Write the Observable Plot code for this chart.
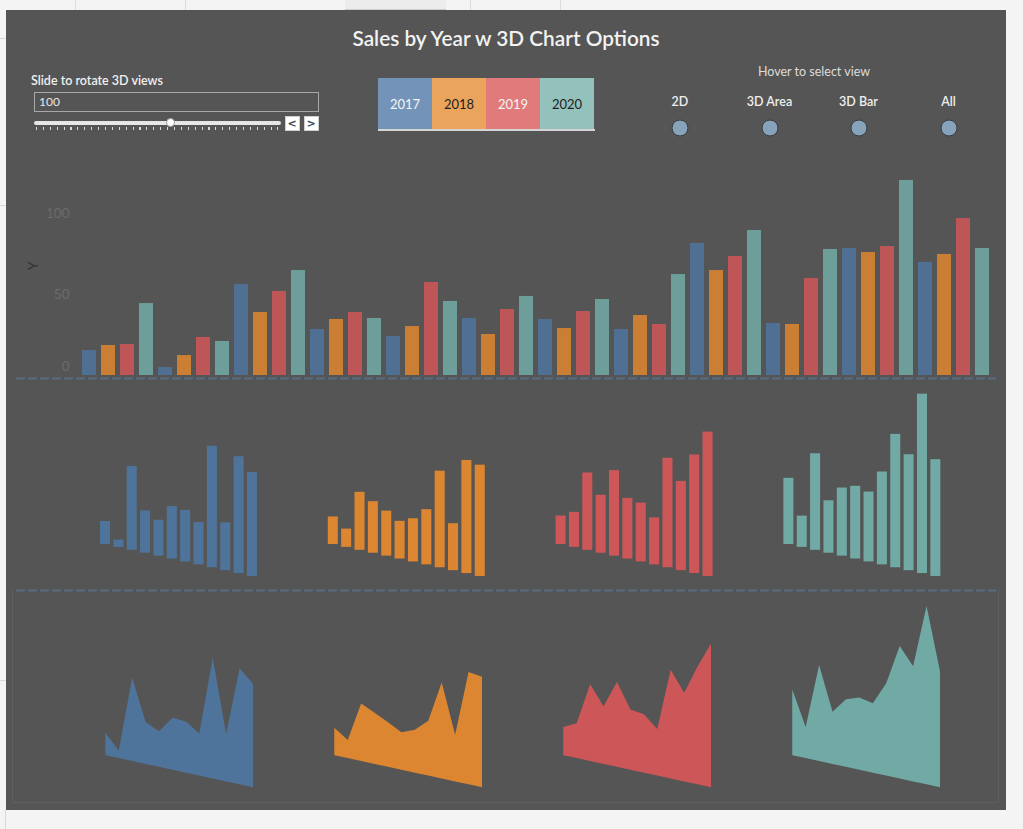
<!DOCTYPE html>
<html>
<head>
<meta charset="utf-8">
<script src="https://cdn.jsdelivr.net/npm/d3@7"></script>
<script src="https://cdn.jsdelivr.net/npm/@observablehq/plot@0.6"></script>
<style>
  body { margin:0; width:1023px; height:829px; background:#f4f4f4; position:relative; overflow:hidden;
         font-family: Lato, "Open Sans", sans-serif; }
  .abs { position:absolute; white-space:nowrap; }
  .c { transform: translate(-50%, -50%); }
  .vc { transform: translate(0, -50%); }
</style>
</head>
<body>
<!-- outer Tableau chrome -->
<div class="abs" style="left:0;top:0;width:1023px;height:10px;background:#f4f4f4;"></div>
<div class="abs" style="left:75px;top:0;width:1px;height:10px;background:#dcdcdc;"></div>
<div class="abs" style="left:185px;top:0;width:1px;height:10px;background:#dcdcdc;"></div>
<div class="abs" style="left:345px;top:0;width:101px;height:9px;background:#ececec;border-bottom:1px solid #cfcfcf;"></div>
<div class="abs" style="left:470px;top:0;width:1px;height:10px;background:#dcdcdc;"></div>
<div class="abs" style="left:560px;top:0;width:1px;height:10px;background:#dcdcdc;"></div>
<div class="abs" style="left:0;top:38px;width:6px;height:1px;background:#d8d8d8;"></div>
<div class="abs" style="left:0;top:205px;width:6px;height:1px;background:#d8d8d8;"></div>
<div class="abs" style="left:0;top:680px;width:6px;height:1px;background:#d8d8d8;"></div>
<div class="abs" style="left:5px;top:810px;width:1px;height:19px;background:#d8d8d8;"></div>

<!-- dashboard background -->
<div class="abs" style="left:6px;top:10px;width:1000px;height:800px;background:#555555;"></div>

<div id="root"></div>

<script>
// ---------- data ----------
const years = ["2017", "2018", "2019", "2020"];
const months = ["Jan","Feb","Mar","Apr","May","Jun","Jul","Aug","Sep","Oct","Nov","Dec"];
const sales2017 = [15.4, 4.9, 56.2, 28.4, 24.1, 35.2, 34.6, 28.4, 81.5, 32.1, 78.4, 69.8];
const sales2018 = [18.5, 12.3, 38.9, 34.6, 30.2, 25.3, 29.0, 37.0, 64.8, 31.5, 75.9, 74.7];
const sales2019 = [19.1, 23.5, 51.9, 38.9, 57.4, 40.7, 39.5, 31.5, 73.5, 59.9, 79.6, 96.9];
const sales2020 = [44.4, 21.0, 64.8, 35.2, 45.7, 48.8, 46.9, 62.3, 89.5, 77.8, 120.4, 78.4];
const yTicksUpper = [50, 100];
const yTickBottom = [0];
const viewOptions = ["2D", "3D Area", "3D Bar", "All"];
const yearColors = ["#4e79a7", "#f28e2b", "#e15759", "#76b7b2"];
const legendColors = ["#7394b8", "#eba45c", "#e07a7b", "#93c1bc"];
const legendText = ["#f4f4f4", "#1e1e1e", "#f4f4f4", "#1e1e1e"];
const sliderValue = "100";

const series = [sales2017, sales2018, sales2019, sales2020];
const root = document.getElementById("root");

function el(html) {
  const t = document.createElement("template");
  t.innerHTML = html.trim();
  const n = t.content.firstChild;
  root.appendChild(n);
  return n;
}

// ---------- header ----------
el(`<div class="abs c" style="left:506px;top:37px;font-size:20.8px;font-weight:600;color:#f2f2f2;">Sales by Year w 3D Chart Options</div>`);
el(`<div class="abs vc" style="left:31px;top:79.5px;font-size:12.5px;font-weight:600;color:#f0f0f0;">Slide to rotate 3D views</div>`);
el(`<div class="abs" style="left:34px;top:92px;width:285px;height:20px;box-sizing:border-box;border:1px solid #a8a8a8;font-size:12px;line-height:18px;padding-left:4px;color:#e6e6e6;">${sliderValue}</div>`);
el(`<div class="abs" style="left:34px;top:121px;width:247px;height:3.5px;background:#e6e6e6;border-radius:2px;"></div>`);
el(`<div class="abs" style="left:36px;top:127px;width:243px;height:3px;background:repeating-linear-gradient(to right,#d8d8d8 0 1px,transparent 1px 6.9px);"></div>`);
el(`<div class="abs" style="left:166px;top:118px;width:9px;height:9px;box-sizing:border-box;border-radius:50%;background:#fff;border:1px solid #9a9a9a;"></div>`);
el(`<div class="abs" style="left:284.5px;top:115.5px;width:15px;height:15px;box-sizing:border-box;background:#fff;border:1px solid #cfcfcf;font-family:'DejaVu Sans';font-size:11px;font-weight:700;line-height:13px;text-align:center;color:#3a4a5a;">&lt;</div>`);
el(`<div class="abs" style="left:303.5px;top:115.5px;width:15px;height:15px;box-sizing:border-box;background:#fff;border:1px solid #cfcfcf;font-family:'DejaVu Sans';font-size:11px;font-weight:700;line-height:13px;text-align:center;color:#3a4a5a;">&gt;</div>`);

// legend
years.forEach((y, k) => {
  el(`<div class="abs" style="left:${378 + 54 * k}px;top:78px;width:54px;height:51px;background:${legendColors[k]};color:${legendText[k]};font-size:13px;line-height:52px;text-align:center;">${y}</div>`);
});
el(`<div class="abs" style="left:378px;top:129px;width:217px;height:2px;background:#d4d4d4;"></div>`);

// view selector
el(`<div class="abs c" style="left:814px;top:71px;font-size:12.5px;color:#dcdcdc;">Hover to select view</div>`);
const viewX = [680, 769.5, 858.5, 948.5];
viewOptions.forEach((v, k) => {
  el(`<div class="abs c" style="left:${viewX[k]}px;top:101px;font-size:12.5px;font-weight:600;color:#eeeeee;">${v}</div>`);
  el(`<div class="abs c" style="left:${viewX[k]}px;top:128px;width:17px;height:17px;box-sizing:border-box;border-radius:50%;background:#87a3bc;border:1px solid #3a3a3a;"></div>`);
});

// separators and box
el(`<svg class="abs" style="left:0;top:0;" width="1023" height="829">
  <line x1="16" x2="996" y1="378.5" y2="378.5" stroke="#5a6b82" stroke-width="2" stroke-dasharray="9 3"/>
  <line x1="16" x2="996" y1="590.5" y2="590.5" stroke="#5a6b82" stroke-width="2" stroke-dasharray="9 3"/>
  <path d="M12.5,590 V802.5 H998.5 V590" fill="none" stroke="#5f5f5f" stroke-width="1"/>
</svg>`);

// ---------- 2D bar chart ----------
const rows2d = [];
months.forEach((m, i) => years.forEach((y, k) => rows2d.push({key: `${m} ${y}`, month: m, year: y, value: series[k][i]})));

const chart1 = Plot.plot({
  width: 1023, height: 218,
  marginLeft: 77.5, marginRight: 28.7, marginTop: 4.4, marginBottom: 3,
  style: {background: "transparent", fontFamily: "Lato, sans-serif", overflow: "visible"},
  x: {type: "band", domain: rows2d.map(d => d.key), paddingInner: 0.26, paddingOuter: 0.13, axis: null},
  y: {domain: [0, 130], axis: null},
  color: {domain: years, range: yearColors},
  marks: [
    Plot.barY(rows2d, {x: "key", y: "value", fill: "year", fillOpacity: 0.75}),
    Plot.axisY({ticks: yTicksUpper, tickSize: 0, tickPadding: 8.5, color: "#6c6c6c", fontSize: 13.5, label: null}),
    Plot.axisY({ticks: yTickBottom, tickSize: 0, tickPadding: 8.5, dy: -9, color: "#6c6c6c", fontSize: 13.5, label: null}),
    Plot.text(["Y"], {frameAnchor: "left", text: d => d, rotate: -90, dx: -44.5, fill: "#333333", fontSize: 14})
  ]
});
chart1.style.position = "absolute"; chart1.style.left = "0px"; chart1.style.top = "160px";
root.appendChild(chart1);

// ---------- 3D bar panels ----------
const panelSpan = 17.05;   // bar slots between panel starts
const barFrac = 0.75;      // bar width as share of a slot
const slope3d = 1.95;      // baseline drop per bar (value units)
const rows3d = [];
years.forEach((y, p) => series[p].forEach((v, i) => rows3d.push({year: y, panel: p, i, value: v})));

const chart2 = Plot.plot({
  width: 1023, height: 210, margin: 0,
  style: {background: "transparent", overflow: "visible"},
  x: {domain: [0, 4 * panelSpan], range: [100, 100 + 4 * panelSpan * 13.36], axis: null},
  y: {domain: [-30, 110], range: [208.7, 0.1], axis: null},
  color: {domain: years, range: yearColors},
  marks: [
    Plot.rect(rows3d, {
      x1: d => d.panel * panelSpan + d.i,
      x2: d => d.panel * panelSpan + d.i + barFrac,
      y1: d => -d.i * slope3d,
      y2: d => -d.i * slope3d + d.value,
      fill: "year", fillOpacity: 0.86
    })
  ]
});
chart2.style.position = "absolute"; chart2.style.left = "0px"; chart2.style.top = "380px";
root.appendChild(chart2);

// ---------- 3D area panels ----------
const slopeArea = 1.966;
const chart3 = Plot.plot({
  width: 1023, height: 220, margin: 0,
  style: {background: "transparent", overflow: "visible"},
  x: {domain: [0, 4 * panelSpan], range: [105.3, 105.3 + 4 * panelSpan * 13.43], axis: null},
  y: {domain: [-30, 110], range: [165.2 + 30 * 1.48, 165.2 - 110 * 1.48], axis: null},
  color: {domain: years, range: yearColors},
  marks: [
    Plot.area(rows3d, {
      x1: d => d.panel * panelSpan + d.i,
      y1: d => -d.i * slopeArea,
      y2: d => -d.i * slopeArea + d.value,
      z: "year", fill: "year", fillOpacity: 0.86, curve: "linear"
    })
  ]
});
chart3.style.position = "absolute"; chart3.style.left = "0px"; chart3.style.top = "590px";
root.appendChild(chart3);
</script>
</body>
</html>
